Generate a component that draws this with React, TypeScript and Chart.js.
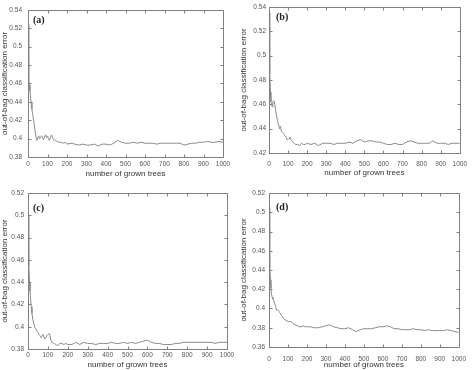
import React, { useEffect, useRef } from "react";
import { Chart, registerables } from "chart.js";

Chart.register(...registerables);

// number of grown trees (shared sampling)
const trees = [
  1, 3, 5, 8, 10, 13, 16, 20, 25, 30, 35, 40, 45, 50, 55, 60, 65, 70, 75, 80, 85, 90, 95, 100, 105, 110, 115, 120, 125, 130,
  140, 150, 160, 170, 180, 190, 200,
  220, 240, 260, 280, 300, 320, 340, 360, 380, 400, 420, 440, 460, 480, 500, 520, 540, 560, 580, 600,
  620, 640, 660, 680, 700, 720, 740, 760, 780, 800, 820, 840, 860, 880, 900, 920, 940, 960, 980, 1000,
];

const errA = [
  0.524, 0.49, 0.465, 0.458, 0.452, 0.445, 0.44, 0.432, 0.425, 0.418, 0.41, 0.403, 0.398, 0.401, 0.403, 0.4, 0.402, 0.403, 0.401, 0.399, 0.403, 0.404, 0.401, 0.403, 0.4, 0.398, 0.401, 0.404, 0.402, 0.399,
  0.398, 0.397, 0.396, 0.396, 0.395, 0.396, 0.394,
  0.395, 0.394, 0.393, 0.394, 0.393, 0.393, 0.394, 0.392, 0.394, 0.394, 0.393, 0.395, 0.398, 0.396, 0.395, 0.395, 0.396, 0.395, 0.396, 0.395,
  0.395, 0.395, 0.394, 0.395, 0.395, 0.395, 0.395, 0.395, 0.395, 0.393, 0.394, 0.395, 0.395, 0.396, 0.396, 0.397, 0.396, 0.396, 0.397, 0.396,
];

const errB = [
  0.535, 0.505, 0.485, 0.47, 0.462, 0.46, 0.458, 0.462, 0.463, 0.46, 0.455, 0.45, 0.446, 0.443, 0.44, 0.442, 0.438, 0.437, 0.436, 0.435, 0.434, 0.433, 0.431, 0.431, 0.432, 0.433, 0.431, 0.43, 0.429, 0.428,
  0.427, 0.427, 0.426, 0.428, 0.427, 0.427, 0.428,
  0.427, 0.428, 0.426, 0.428, 0.428, 0.428, 0.427, 0.428, 0.428, 0.428, 0.429, 0.428, 0.43, 0.431, 0.429, 0.43, 0.43, 0.429, 0.429, 0.428,
  0.427, 0.427, 0.428, 0.427, 0.427, 0.429, 0.43, 0.429, 0.428, 0.428, 0.428, 0.428, 0.43, 0.428, 0.428, 0.428, 0.427, 0.428, 0.428, 0.428,
];

const errC = [
  0.5, 0.475, 0.455, 0.44, 0.432, 0.425, 0.418, 0.412, 0.406, 0.402, 0.399, 0.398, 0.396, 0.395, 0.393, 0.392, 0.39, 0.391, 0.393, 0.391, 0.389, 0.39, 0.392, 0.393, 0.394, 0.392, 0.388, 0.386, 0.386, 0.385,
  0.384, 0.383, 0.385, 0.385, 0.384, 0.385, 0.384,
  0.384, 0.386, 0.384, 0.386, 0.385, 0.385, 0.384, 0.385, 0.385, 0.385, 0.386, 0.385, 0.385, 0.386, 0.385, 0.386, 0.385, 0.386, 0.387, 0.388,
  0.386, 0.385, 0.385, 0.384, 0.384, 0.384, 0.385, 0.385, 0.386, 0.386, 0.386, 0.386, 0.386, 0.386, 0.386, 0.386, 0.385, 0.386, 0.386, 0.386,
];

const errD = [
  0.505, 0.47, 0.442, 0.43, 0.421, 0.416, 0.412, 0.41, 0.408, 0.405, 0.402, 0.398, 0.399, 0.398, 0.396, 0.395, 0.393, 0.392, 0.39, 0.389, 0.388, 0.388, 0.387, 0.387, 0.386, 0.387, 0.386, 0.386, 0.385, 0.384,
  0.383, 0.382, 0.381, 0.381, 0.382, 0.381, 0.381,
  0.381, 0.38, 0.38, 0.381, 0.382, 0.383, 0.381, 0.38, 0.379, 0.379, 0.38, 0.378, 0.376, 0.378, 0.379, 0.379, 0.379, 0.38, 0.381, 0.381,
  0.382, 0.381, 0.379, 0.379, 0.378, 0.378, 0.378, 0.379, 0.378, 0.378, 0.377, 0.378, 0.377, 0.377, 0.377, 0.377, 0.378, 0.377, 0.376, 0.375,
];

const panelLabels = ["(a)", "(b)", "(c)", "(d)"];
const yMins = [0.38, 0.42, 0.38, 0.36];
const yMaxs = [0.54, 0.54, 0.52, 0.52];
const xTitle = "number of grown trees";
const yTitle = "out-of-bag classification error";

type Layout = {
  left: number; top: number; L: number; R: number; T: number; B: number;
  xPad: number; yPad: number; xTitlePad: number; yTitlePad: number; lblDx: number; lblDy: number;
};

const layouts: Layout[] = [
  { left: 0, top: 0, L: 28, R: 223, T: 5, B: 157, xPad: 3, yPad: 6, xTitlePad: 6, yTitlePad: 0, lblDx: 5, lblDy: 11 },
  { left: 237, top: 0, L: 32, R: 229, T: 5, B: 153, xPad: 7, yPad: 3, xTitlePad: 7, yTitlePad: 2, lblDx: 7, lblDy: 11 },
  { left: 0, top: 185, L: 28, R: 227, T: 8, B: 164, xPad: 2, yPad: 4, xTitlePad: 0, yTitlePad: 0, lblDx: 5, lblDy: 15 },
  { left: 237, top: 185, L: 32, R: 227, T: 8, B: 162, xPad: 8, yPad: 4, xTitlePad: 0, yTitlePad: 2, lblDx: 7, lblDy: 14 },
];

const series = [errA, errB, errC, errD];
const PW = 237;
const PH = 185;

const boxPlugin = {
  id: "matlabBox",
  afterDraw(chart: any, _args: any, opts: any) {
    const { ctx, chartArea } = chart;
    const { left, right, top, bottom } = chartArea;
    ctx.save();
    ctx.strokeStyle = "#808080";
    ctx.lineWidth = 1;
    ctx.beginPath();
    const l = Math.round(left) + 0.5, r = Math.round(right) + 0.5, t = Math.round(top) + 0.5, b = Math.round(bottom) + 0.5;
    ctx.rect(l, t, r - l, b - t);
    const xs = chart.scales.x, ys = chart.scales.y;
    const tl = 3;
    xs.ticks.forEach((tk: any) => {
      const px = Math.round(xs.getPixelForValue(tk.value)) + 0.5;
      ctx.moveTo(px, b); ctx.lineTo(px, b - tl);
      ctx.moveTo(px, t); ctx.lineTo(px, t + tl);
    });
    ys.ticks.forEach((tk: any) => {
      const py = Math.round(ys.getPixelForValue(tk.value)) + 0.5;
      ctx.moveTo(l, py); ctx.lineTo(l + tl, py);
      ctx.moveTo(r, py); ctx.lineTo(r - tl, py);
    });
    ctx.stroke();
    ctx.fillStyle = "#222";
    ctx.font = "bold 10px 'Liberation Serif', 'Times New Roman', serif";
    ctx.textBaseline = "middle";
    ctx.textAlign = "left";
    ctx.fillText(opts.label, left + opts.dx, top + opts.dy);
    ctx.restore();
  },
};

function Panel({ idx }: { idx: number }) {
  const ref = useRef<HTMLCanvasElement | null>(null);
  useEffect(() => {
    const lay = layouts[idx];
    const data = trees.map((t, i) => ({ x: t, y: series[idx][i] }));
    const tickFont = { family: "'Liberation Sans', Arial, sans-serif", size: 6.5 };
    const titleFont = { family: "'Liberation Sans', Arial, sans-serif", size: 8 };
    const chart = new Chart(ref.current as HTMLCanvasElement, {
      type: "line",
      data: {
        datasets: [
          {
            data,
            borderColor: "#8a8a8a",
            borderWidth: 1,
            pointRadius: 0,
            tension: 0,
            fill: false,
          },
        ],
      },
      options: {
        animation: false,
        responsive: false,
        events: [],
        layout: { padding: { left: 0, top: lay.T, right: PW - lay.R, bottom: 0 } },
        plugins: {
          legend: { display: false },
          tooltip: { enabled: false },
          matlabBox: { label: panelLabels[idx], dx: lay.lblDx, dy: lay.lblDy },
        } as any,
        scales: {
          x: {
            type: "linear",
            min: 0,
            max: 1000,
            grid: { display: false, drawTicks: false },
            border: { display: false },
            ticks: {
              stepSize: 100,
              font: tickFont,
              color: "#555",
              padding: lay.xPad,
              maxRotation: 0,
              autoSkip: false,
              callback: (v: any) => String(Math.round(Number(v))),
            },
            title: { display: true, text: xTitle, font: titleFont, color: "#333", padding: { top: 0, bottom: lay.xTitlePad } },
            afterFit: (s: any) => { s.height = PH - lay.B; },
          },
          y: {
            min: yMins[idx],
            max: yMaxs[idx],
            grid: { display: false, drawTicks: false },
            border: { display: false },
            ticks: {
              stepSize: 0.02,
              font: tickFont,
              color: "#555",
              padding: lay.yPad,
              autoSkip: false,
              callback: (v: any) => String(parseFloat(Number(v).toFixed(2))),
            },
            title: { display: true, text: yTitle, font: titleFont, color: "#333", padding: { top: lay.yTitlePad, bottom: 0 } },
            afterFit: (s: any) => { s.width = lay.L; },
          },
        },
      },
      plugins: [boxPlugin],
    } as any);
    return () => chart.destroy();
  }, [idx]);
  const lay = layouts[idx];
  return (
    <canvas
      ref={ref}
      width={PW}
      height={PH}
      style={{ position: "absolute", left: lay.left, top: lay.top, width: PW, height: PH }}
    />
  );
}

export default function App() {
  return (
    <div style={{ position: "fixed", left: 0, top: 0, width: 474, height: 370, background: "#fff", overflow: "hidden" }}>
      {[0, 1, 2, 3].map((i) => (
        <Panel key={i} idx={i} />
      ))}
    </div>
  );
}
